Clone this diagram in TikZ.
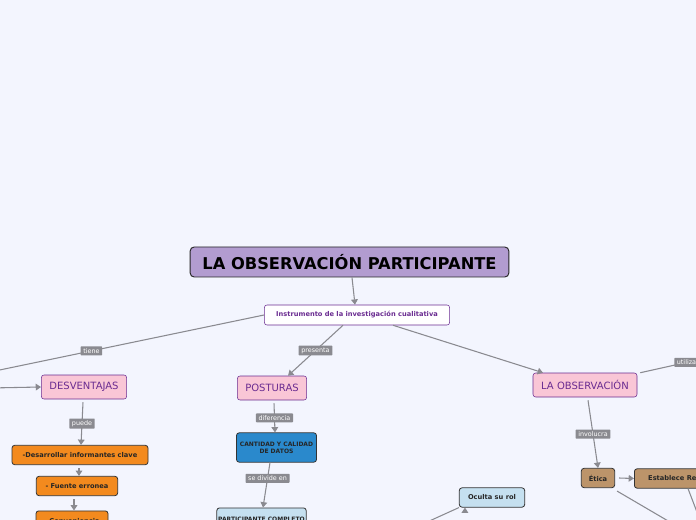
\documentclass[tikz,border=0pt]{standalone}
\usepackage{fontspec}
\setmainfont{DejaVu Sans}
\usetikzlibrary{arrows.meta}
\definecolor{bg}{HTML}{F3F5FE}
\definecolor{purp}{HTML}{6A2C91}
\definecolor{pinkf}{HTML}{F9C6D6}
\definecolor{orangef}{HTML}{F38A1E}
\definecolor{bluef}{HTML}{2A89CC}
\definecolor{lbluef}{HTML}{C5E0F0}
\definecolor{brownf}{HTML}{BC946A}
\definecolor{titlef}{HTML}{B29CD0}
\definecolor{edgec}{HTML}{8A8A90}
\tikzset{
  every node/.style={inner sep=0pt, align=center},
  topic/.style={draw=purp, fill=pinkf, rounded corners=2pt, text=purp, font=\fontsize{7.5}{8}\selectfont, minimum height=18pt},
  sub/.style={draw=black!80, rounded corners=2pt, font=\bfseries\fontsize{5}{6}\selectfont, text=black!85, minimum height=14.5pt, line width=0.6pt},
  lbl/.style={fill=edgec, text=white, font=\fontsize{4.8}{5}\selectfont, inner xsep=2pt, inner ysep=1.5pt, rounded corners=0.5pt},
  con/.style={draw=edgec, line width=0.8pt},
  arr/.style={con, -{Triangle[length=4pt,width=5pt]}},
}
\begin{document}
\begin{tikzpicture}[x=0.75pt,y=-0.75pt]
\fill[bg] (0,0) rectangle (696,520);
\useasboundingbox (0,0) rectangle (696,520);
\begin{scope}
\clip (0,0) rectangle (696,520);
\node[draw=black!85, fill=titlef, rounded corners=3pt, line width=0.7pt, minimum width=239pt, minimum height=22.5pt, font=\bfseries\fontsize{12.2}{13}\selectfont] (title) at (349.5,262) {LA OBSERVACIÓN PARTICIPANTE};
\node[draw=purp, fill=white, rounded corners=2pt, text=purp, font=\bfseries\fontsize{5}{6}\selectfont, minimum width=139pt, minimum height=15pt] (inst) at (357,315) {Instrumento de la investigación cualitativa};
\node[topic, minimum width=64pt] (desv) at (84,387) {DESVENTAJAS};
\node[topic, minimum width=52pt] (post) at (272,388) {POSTURAS};
\node[topic, minimum width=78pt] (obs) at (585,385) {LA OBSERVACIÓN};
\node[sub, fill=orangef, minimum width=102pt] (des) at (80,455) {-Desarrollar informantes clave};
\node[sub, fill=orangef, minimum width=61pt] (fue) at (77,486) {- Fuente erronea};
\node[sub, fill=orangef, minimum width=54pt, anchor=north] (conv) at (72,510.5) {- Conveniencia};
\node[sub, fill=bluef, minimum width=60pt, minimum height=22pt, font=\bfseries\scshape\fontsize{4.5}{5.5}\selectfont] (cant) at (276.5,447.5) {CANTIDAD Y CALIDAD\\DE DATOS};
\node[sub, fill=lbluef, minimum width=67pt, minimum height=22pt, anchor=north, font=\bfseries\scshape\fontsize{4.5}{5.5}\selectfont] (part) at (261.5,507.5) {PARTICIPANTE COMPLETO\\ };
\node[sub, fill=lbluef, minimum width=49pt] (ocu) at (492,497.5) {Oculta su rol};
\node[sub, fill=brownf, minimum width=25pt] (eti) at (598,478) {Ética};
\node[sub, fill=brownf, minimum width=80pt, anchor=west] (est) at (634,478.5) {Establece Relaciones};
\coordinate (L1) at (-10,372);
\coordinate (L2) at (-10,388);
\coordinate (R1) at (720,355);
\coordinate (B1) at (425,523);
\coordinate (B2) at (675,525);
\coordinate (B3) at (700,520);
\draw[arr] (title.south -| 352,0) -- (inst.north -| 355,0);
\draw[con] (inst.west) -- node[lbl,pos=0.63]{tiene} (L1);
\draw[arr] (L2) -- (desv.west);
\draw[arr] (inst.south -| 343,0) -- node[lbl]{presenta} (post.north -| 288,0);
\draw[arr] (inst.south -| 393,0) -- (obs.north -| 543,0);
\draw[con] (obs.north east) ++(3,0) -- node[lbl,pos=0.58]{utiliza} (R1);
\draw[arr] (desv.south) ++(-1,3) -- node[lbl]{puede} (des.north -| 81,0);
\draw[arr] (des.south -| 79,0) ++(0,3) -- (fue.north -| 79,0);
\draw[arr] (fue.south -| 74,0) ++(0,3) -- (conv.north -| 74,0);
\draw[arr] (post.south) ++(2,3) -- node[lbl]{diferencia} (cant.north -| 275,0);
\draw[arr] (cant.south -| 270,0) -- node[lbl,pos=0.35]{se divide en} (part.north -| 263,0);
\draw[arr] (B1) -- (ocu.south west) ++(6,0);
\draw[arr] (obs.south) ++(3,3) -- node[lbl]{involucra} (eti.north);
\draw[arr] (eti.east) ++(4,0) -- (est.west);
\draw[con] (eti.south east) ++(2,3) -- (B2);
\draw[con] (est.south -| 688,0) -- (B3);
\end{scope}
\end{tikzpicture}
\end{document}
